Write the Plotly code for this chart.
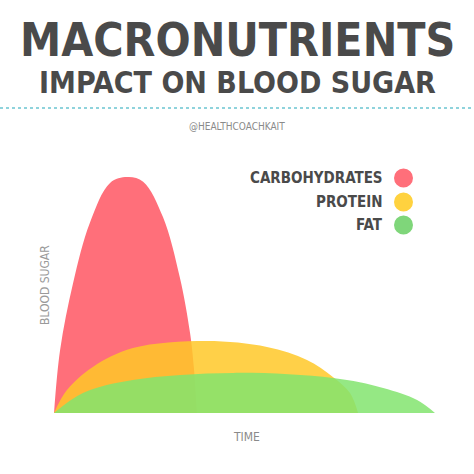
import plotly.graph_objects as go

# curve points (time 0-100, blood sugar 0-100)
carb_x = [0, 1.6, 5, 9.4, 14.7, 19.2, 23.4, 28.6, 33, 35.7, 36.7, 37.5]
carb_y = [0, 26.7, 55, 80.5, 97.5, 100, 98, 83, 57.6, 34, 19.5, 0]
prot_x = [0, 3.4, 10.2, 20.7, 40, 55.9, 66.4, 73.2, 77.7, 79.8]
prot_y = [0, 9.7, 19.5, 27.5, 30.5, 28, 22.5, 15.3, 8.5, 0]
fat_x = [0, 7.6, 20.7, 47, 73.2, 86.4, 95.3, 100]
fat_y = [0, 8.5, 14, 17, 14.8, 10.6, 5.5, 0]

legend_names = ["CARBOHYDRATES", "PROTEIN", "FAT"]
legend_colors = ["#ff6f7a", "#ffd23f", "#7fd67a"]

FONT = "DejaVu Sans Condensed"

fig = go.Figure()
fig.add_trace(go.Scatter(x=carb_x, y=carb_y, mode="lines", line=dict(width=0, shape="spline"),
                         fill="tozeroy", fillcolor="rgba(255,111,122,1)"))
fig.add_trace(go.Scatter(x=prot_x, y=prot_y, mode="lines", line=dict(width=0, shape="spline"),
                         fill="tozeroy", fillcolor="rgba(255,200,40,0.85)"))
fig.add_trace(go.Scatter(x=fat_x, y=fat_y, mode="lines", line=dict(width=0, shape="spline"),
                         fill="tozeroy", fillcolor="rgba(130,228,110,0.85)"))

fig.update_layout(
    width=474, height=474, margin=dict(l=0, r=0, t=0, b=0),
    paper_bgcolor="white", plot_bgcolor="white", showlegend=False,
    xaxis=dict(range=[0, 100], domain=[54 / 474, 435 / 474], visible=False),
    yaxis=dict(range=[0, 100], domain=[1 - 413 / 474, 1 - 177 / 474], visible=False),
)

ann = [
    dict(text="<b>MACRONUTRIENTS</b>", x=0.5, y=1 - 40 / 474, size=46, color="#4a4a4a"),
    dict(text="<b>IMPACT ON BLOOD SUGAR</b>", x=0.5, y=1 - 83 / 474, size=30, color="#4a4a4a"),
    dict(text="@HEALTHCOACHKAIT", x=0.5, y=1 - 127 / 474, size=10, color="#8a8a8a"),
    dict(text="TIME", x=247 / 474, y=1 - 437 / 474, size=12, color="#8a8a8a"),
]
for a in ann:
    fig.add_annotation(text=a["text"], x=a["x"], y=a["y"], xref="paper", yref="paper",
                       yanchor="middle", showarrow=False,
                       font=dict(family=FONT, size=a["size"], color=a["color"]))
fig.add_annotation(text="BLOOD SUGAR", x=36 / 474, y=1 - 285 / 474, xref="paper", yref="paper",
                   yanchor="middle", showarrow=False, textangle=-90,
                   font=dict(family=FONT, size=12, color="#9a9a9a"))
for name, col, yy in zip(legend_names, legend_colors, [178, 202, 225]):
    fig.add_annotation(text="<b>" + name + "</b>", x=385 / 474, y=1 - yy / 474, xref="paper", yref="paper",
                       xanchor="right", yanchor="middle", showarrow=False,
                       font=dict(family=FONT, size=15, color="#4a4a4a"))
    fig.add_shape(type="circle", xref="paper", yref="paper", fillcolor=col, line_width=0,
                  x0=394 / 474, x1=413 / 474, y0=1 - (yy + 9.5) / 474, y1=1 - (yy - 9.5) / 474)

fig.add_shape(type="line", xref="paper", yref="paper", x0=0, x1=1, y0=1 - 108 / 474, y1=1 - 108 / 474,
              line=dict(color="#8fd3dc", width=2, dash="dot"))

fig.write_html("out.html", config={"displayModeBar": False},
               post_script="document.body.style.margin='0';")
